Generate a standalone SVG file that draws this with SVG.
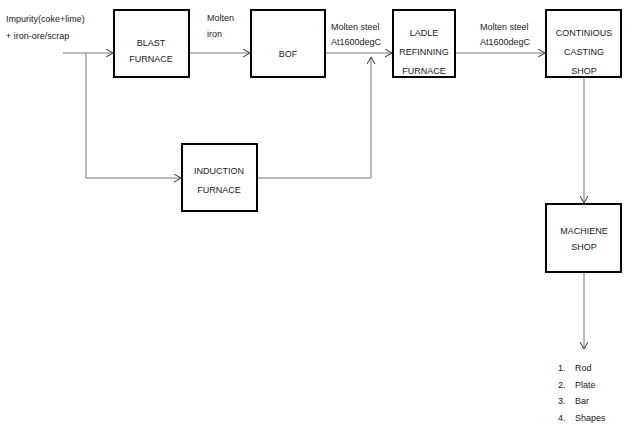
<svg xmlns="http://www.w3.org/2000/svg" width="640" height="431" viewBox="0 0 640 431">
<style>
.b{fill:#fff;stroke:#000;stroke-width:2}
.t{font-family:"Liberation Sans",Arial,sans-serif;font-size:9px;fill:#222}
.c{text-anchor:middle}
.l{fill:none;stroke:#777;stroke-width:1}
</style>
<defs><marker id="a" markerWidth="10" markerHeight="10" refX="8" refY="4" orient="auto" markerUnits="userSpaceOnUse"><path d="M1,0 L8,4 L1,8" fill="none" stroke="#333" stroke-width="1"/></marker></defs>
<rect width="640" height="431" fill="#fff"/>
<g id="connectors">
<path class="l" d="M63,53 H113" marker-end="url(#a)"/>
<path class="l" d="M86,53 V178 H181" marker-end="url(#a)"/>
<path class="l" d="M190,53 H250" marker-end="url(#a)"/>
<path class="l" d="M326,53 H392" marker-end="url(#a)"/>
<path class="l" d="M258,178 H371 V57" marker-end="url(#a)"/>
<path class="l" d="M456,53 H545" marker-end="url(#a)"/>
<path class="l" d="M584,78 V203" marker-end="url(#a)"/>
<path class="l" d="M584,273 V349" marker-end="url(#a)"/>
</g>
<g id="input"><text class="t" x="6" y="22">Impurity(coke+lime)</text><text class="t" x="6" y="39">+ iron-ore/scrap</text></g>
<g id="blast"><rect class="b" x="114" y="10" width="75" height="67"/><text class="t c" x="151" y="46">BLAST</text><text class="t c" x="151" y="62">FURNACE</text></g>
<g id="lbl1"><text class="t" x="207" y="21">Molten</text><text class="t" x="207" y="37">iron</text></g>
<g id="bof"><rect class="b" x="251" y="10" width="74" height="67"/><text class="t c" x="288" y="57">BOF</text></g>
<g id="lbl2"><text class="t" x="331" y="30">Molten steel</text><text class="t" x="331" y="45">At1600degC</text></g>
<g id="ladle"><rect class="b" x="393" y="10" width="62" height="67"/><text class="t c" x="424" y="36">LADLE</text><text class="t c" x="424" y="55">REFINNING</text><text class="t c" x="424" y="74">FURNACE</text></g>
<g id="lbl3"><text class="t" x="480" y="30">Molten steel</text><text class="t" x="480" y="45">At1600degC</text></g>
<g id="casting"><rect class="b" x="546" y="10" width="75" height="67"/><text class="t c" x="584" y="36">CONTINIOUS</text><text class="t c" x="584" y="55">CASTING</text><text class="t c" x="584" y="74">SHOP</text></g>
<g id="induction"><rect class="b" x="182" y="144" width="75" height="67"/><text class="t c" x="219" y="174">INDUCTION</text><text class="t c" x="219" y="193">FURNACE</text></g>
<g id="machine"><rect class="b" x="546" y="204" width="75" height="68"/><text class="t c" x="584" y="234">MACHIENE</text><text class="t c" x="584" y="250">SHOP</text></g>
<g id="list">
<text class="t" x="558" y="371">1.</text><text class="t" x="575" y="371">Rod</text>
<text class="t" x="558" y="388">2.</text><text class="t" x="575" y="388">Plate</text>
<text class="t" x="558" y="404">3.</text><text class="t" x="575" y="404">Bar</text>
<text class="t" x="558" y="421">4.</text><text class="t" x="575" y="421">Shapes</text>
</g>
</svg>
